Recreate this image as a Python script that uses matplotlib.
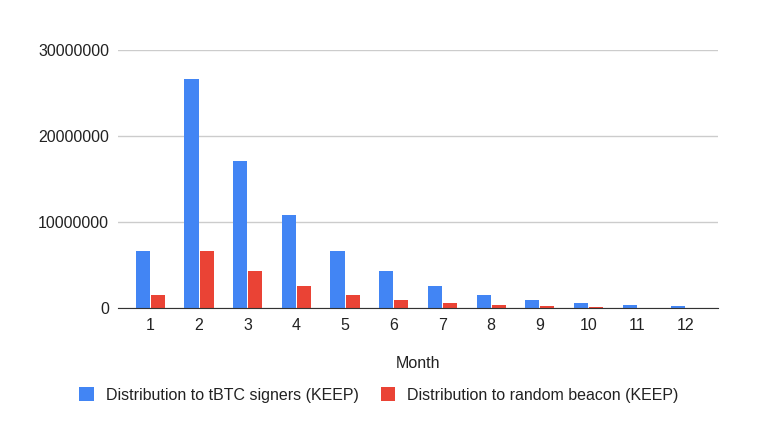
import numpy as np
import matplotlib.pyplot as plt

plt.rcParams['font.family'] = ['Liberation Sans', 'DejaVu Sans']

months = [1, 2, 3, 4, 5, 6, 7, 8, 9, 10, 11, 12]
tbtc_signers = [6650000, 26600000, 17100000, 10850000, 6700000, 4300000,
                2600000, 1550000, 930000, 600000, 350000, 200000]
random_beacon = [1550000, 6600000, 4300000, 2600000, 1550000, 950000,
                 600000, 330000, 200000, 120000, 70000, 40000]
series_names = ["Distribution to tBTC signers (KEEP)",
                "Distribution to random beacon (KEEP)"]

fs = 11.5
fig = plt.figure(figsize=(7.83, 4.46), dpi=100)
ax = fig.add_axes([0.151, 0.309, 0.766, 0.579])

x = np.arange(len(months))
w = 0.29
ax.bar(x - w / 2 - 0.01, tbtc_signers, w, color='#4285F4', label=series_names[0], zorder=3)
ax.bar(x + w / 2 + 0.01, random_beacon, w, color='#EA4335', label=series_names[1], zorder=3)

ax.set_ylim(0, 30000000)
ax.set_yticks([0, 10000000, 20000000, 30000000])
ax.set_yticklabels(['0', '10000000', '20000000', '30000000'])
ax.set_xlim(-0.66, len(months) - 0.34)
ax.set_xticks(x)
ax.set_xticklabels([str(m) for m in months])

ax.grid(axis='y', color='#cccccc', linewidth=1, zorder=0)
for s in ['top', 'right', 'left']:
    ax.spines[s].set_visible(False)
ax.spines['bottom'].set_color('#333333')
ax.spines['bottom'].set_zorder(4)
ax.tick_params(axis='both', length=0, labelsize=fs, colors='#222222')
ax.tick_params(axis='x', pad=7)
ax.tick_params(axis='y', pad=6.5)

fig.text(418 / 783, 1 - 364 / 446, 'Month', fontsize=fs, color='#222222',
         ha='center', va='center')

fig.legend(loc='center', bbox_to_anchor=(379 / 783, 1 - 395 / 446), ncol=2, frameon=False,
           fontsize=fs, handlelength=0.9, handleheight=0.9, columnspacing=1.4,
           handletextpad=0.75, labelcolor='#222222')

fig.savefig('out.png', dpi=100)
